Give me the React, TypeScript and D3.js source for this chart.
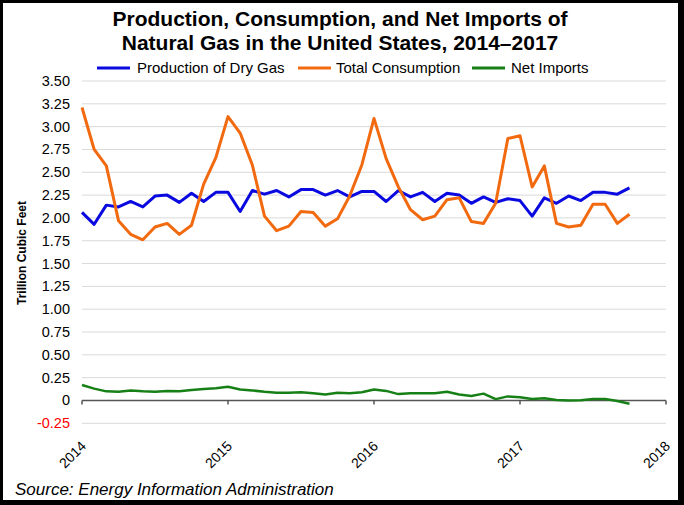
import * as d3 from 'd3'

// monthly values, Jan 2014 - Oct 2017 (trillion cubic feet)
const years = [2014, 2015, 2016, 2017, 2018]
const yTicks = [3.5, 3.25, 3.0, 2.75, 2.5, 2.25, 2.0, 1.75, 1.5, 1.25, 1.0, 0.75, 0.5, 0.25, 0, -0.25]

const production = [
  2.06, 1.93, 2.14, 2.12, 2.18, 2.12, 2.24, 2.25, 2.17, 2.27, 2.18, 2.28,
  2.28, 2.07, 2.30, 2.26, 2.30, 2.23, 2.31, 2.31, 2.25, 2.30, 2.23, 2.29,
  2.29, 2.18, 2.30, 2.23, 2.28, 2.18, 2.27, 2.25, 2.16, 2.23, 2.17, 2.21,
  2.19, 2.02, 2.22, 2.16, 2.24, 2.19, 2.28, 2.28, 2.26, 2.33
]
const consumption = [
  3.21, 2.75, 2.57, 1.97, 1.82, 1.76, 1.90, 1.94, 1.82, 1.92, 2.37, 2.66,
  3.11, 2.93, 2.58, 2.02, 1.86, 1.91, 2.07, 2.06, 1.91, 1.99, 2.24, 2.58,
  3.09, 2.65, 2.34, 2.09, 1.98, 2.02, 2.20, 2.22, 1.96, 1.94, 2.16, 2.87,
  2.90, 2.34, 2.57, 1.94, 1.90, 1.92, 2.15, 2.15, 1.94, 2.04
]
const netImports = [
  0.17, 0.13, 0.10, 0.095, 0.11, 0.10, 0.095, 0.105, 0.10, 0.115, 0.125, 0.135,
  0.15, 0.12, 0.11, 0.095, 0.085, 0.085, 0.09, 0.08, 0.065, 0.085, 0.08, 0.09,
  0.12, 0.105, 0.07, 0.08, 0.08, 0.08, 0.095, 0.065, 0.05, 0.075, 0.015, 0.045,
  0.035, 0.015, 0.025, 0.005, 0, 0.003, 0.015, 0.015, -0.005, -0.035
]

const series = [
  { label: 'Production of Dry Gas', values: production, color: '#0a0ae0', width: 3 },
  { label: 'Total Consumption', values: consumption, color: '#f26a10', width: 3 },
  { label: 'Net Imports', values: netImports, color: '#168016', width: 2.5 }
]

const W = 684
const H = 505

export default function App() {
  const x = d3.scaleLinear().domain([2014, 2018]).range([82, 666])
  const y = d3.scaleLinear().domain([-0.25, 3.5]).range([423.3, 81])

  const line = d3.line<number>()
    .x((_, i) => x(2014 + i / 12))
    .y(d => y(d))

  const legendItems = [
    { x: 97, textX: 137 },
    { x: 298, textX: 336 },
    { x: 472, textX: 511 }
  ]

  return (
    <svg width={W} height={H} style={{ position: 'absolute', left: 0, top: 0 }}
      fontFamily="'Liberation Sans', Arial, sans-serif">
      <rect x={0} y={0} width={W} height={H} fill="#000" />
      <rect x={3} y={3} width={675} height={497} fill="#fff" />

      {/* title */}
      <text x={340} y={26} textAnchor="middle" fontSize={21} fontWeight="bold">
        Production, Consumption, and Net Imports of
      </text>
      <text x={340} y={50} textAnchor="middle" fontSize={21} fontWeight="bold">
        Natural Gas in the United States, 2014–2017
      </text>

      {/* legend */}
      {series.map((s, i) => (
        <g key={s.label}>
          <line x1={legendItems[i].x} x2={legendItems[i].x + 33} y1={68} y2={68}
            stroke={s.color} strokeWidth={3} />
          <text x={legendItems[i].textX} y={73} fontSize={15}>{s.label}</text>
        </g>
      ))}

      {/* grid + y labels */}
      {yTicks.map(t => (
        <g key={t}>
          {t !== 0 && (
            <line x1={x(2014)} x2={x(2018)} y1={y(t)} y2={y(t)} stroke="#d9d9d9" strokeWidth={1} />
          )}
          <text x={70} y={y(t) + 5} textAnchor="end" fontSize={14.5}
            fill={t < 0 ? '#ff0000' : '#000'}>
            {t === 0 ? '0' : t.toFixed(2)}
          </text>
        </g>
      ))}

      {/* zero axis with year ticks */}
      <line x1={x(2014)} x2={x(2018)} y1={y(0)} y2={y(0)} stroke="#555" strokeWidth={1.5} />
      {years.map(yr => (
        <g key={yr}>
          <line x1={x(yr)} x2={x(yr)} y1={y(0)} y2={y(0) + 4} stroke="#555" strokeWidth={1.5} />
          <text transform={`translate(${x(yr) + 5},447) rotate(-45)`} textAnchor="end" fontSize={14}>
            {yr}
          </text>
        </g>
      ))}

      {/* lines */}
      {series.map(s => (
        <path key={s.label} d={line(s.values) || ''} fill="none" stroke={s.color}
          strokeWidth={s.width} strokeLinejoin="round" />
      ))}

      <text transform="translate(26,253) rotate(-90)" textAnchor="middle" fontSize={12} fontWeight="bold">
        Trillion Cubic Feet
      </text>

      <text x={15} y={495} fontSize={17} fontStyle="italic">
        Source: Energy Information Administration
      </text>
    </svg>
  )
}
